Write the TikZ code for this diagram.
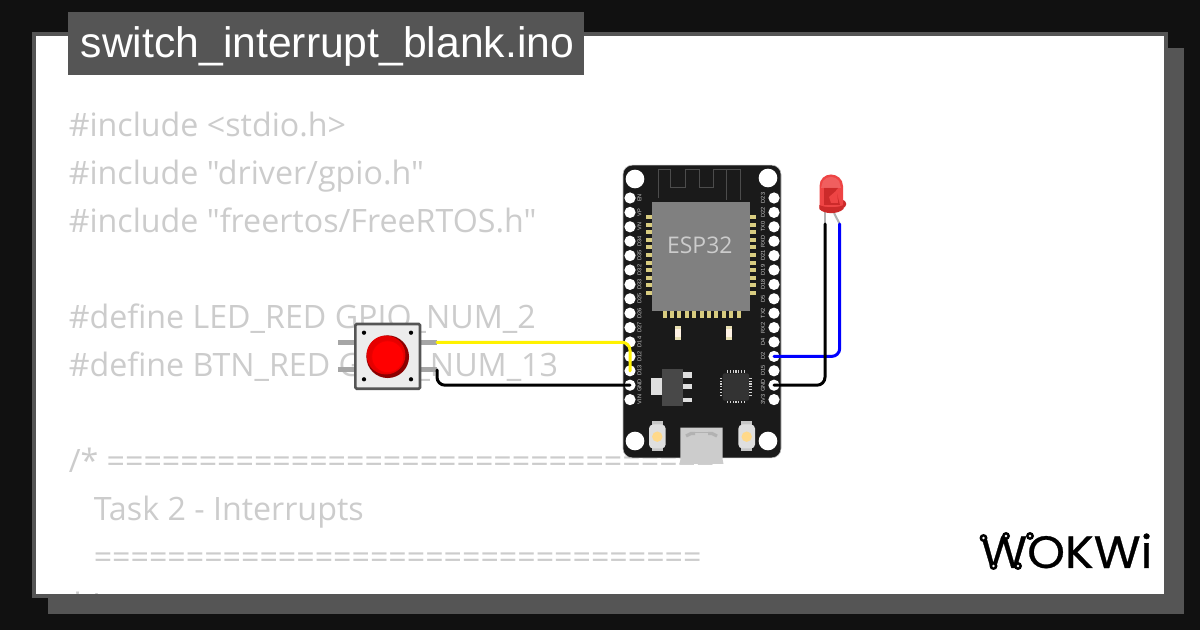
\documentclass[tikz,border=0pt]{standalone}
\usepackage{fontspec}
\newfontfamily\codefont{Open Sans}
\newfontfamily\titlefont{Liberation Sans}
\newfontfamily\logofont{Poppins}[FakeBold=0.6]
\newfontfamily\pinfont{Liberation Sans}
\definecolor{bgdark}{HTML}{111111}
\definecolor{frame}{HTML}{555555}
\definecolor{codegray}{HTML}{CCCCCC}
\definecolor{pcb}{HTML}{1A1A1A}
\definecolor{chipgray}{HTML}{808080}
\definecolor{padgold}{HTML}{D8CC80}
\definecolor{ledred}{HTML}{EE4444}
\definecolor{ledmid}{HTML}{CC2A2A}
\definecolor{lamp}{HTML}{FFD98A}
\definecolor{wireyellow}{HTML}{FFF200}
\tikzset{
  x=0.75pt,y=-0.75pt,
  codeline/.style={anchor=base west,inner sep=0pt,text=codegray,font=\codefont\fontsize{24.15}{24}\selectfont},
  hole/.style={fill=white,draw=none},
  pinlabel/.style={inner sep=0pt,text=codegray,rotate=90,font=\pinfont\fontsize{4.2}{4}\selectfont},
  wire/.style={line width=2.25pt,rounded corners=6pt,line cap=round},
}
\begin{document}
\begin{tikzpicture}
\useasboundingbox (0,0) rectangle (1200,630);
\fill[bgdark] (0,0) rectangle (1200,630);
\fill[frame] (48,48) rectangle (1184,614);
\fill[frame] (32,32) rectangle (1168,598);
\fill[white] (36,36) rectangle (1164,594);
% code
\begin{scope}
\clip (36,36) rectangle (1164,594);
\node[codeline] at (68.5,137) {\#include <stdio.h>};
\node[codeline] at (68.5,185) {\#include "driver/gpio.h"};
\node[codeline] at (68.5,233) {\#include "freertos/FreeRTOS.h"};
\node[codeline] at (68.5,329) {\#define LED\_RED GPIO\_NUM\_2};
\node[codeline] at (68.5,377) {\#define BTN\_RED GPIO\_NUM\_13};
\node[codeline] at (68.5,473) {/* =================================};
\node[codeline] at (93.5,521) {Task 2 - Interrupts};
\node[codeline] at (93.5,569) {=================================};
\node[codeline] at (68.5,617) {*/};
\end{scope}
% title
\fill[frame] (68,12) rectangle (584,75);
\node[anchor=base west,inner sep=0pt,text=white,font=\titlefont\fontsize{32}{32}\selectfont] (title) at (80.5,58) {switch\_interrupt\_blank.ino};
% pushbutton
\foreach \yy in {342.3,370}{
  \fill[gray!70] (338,\yy-2.5) rectangle (355,\yy+2.5);
  \fill[gray!70] (420,\yy-2.5) rectangle (437,\yy+2.5);
}
\node[draw=frame,line width=2pt,fill=gray!15,rounded corners=1pt,minimum width=48.5pt,minimum height=48.5pt,inner sep=0pt] (btn) at (387.7,356.4) {};
\foreach \xx/\yy in {364/332.7,411/332.7,364/379.3,411/379.3}{\fill[black] (\xx,\yy) circle (1.6pt);}
\fill[red!55!black] (387.7,356.7) circle (16pt);
\fill[red!90!black] (386,355) circle (14.6pt);
\fill[red!92!black] (387.7,356.7) circle (12.4pt);
\fill[red] (387.7,356.7) circle (11.6pt);
\coordinate (btn1) at (437,342.3);
\coordinate (btn2) at (437,370);
% board
\node[fill=pcb,draw=gray!50,line width=.4pt,rounded corners=7pt,minimum width=118.5pt,minimum height=219.5pt,inner sep=0pt] (board) at (702,311.5) {};
\foreach \xx/\yy in {635/179,768/178,635/441,768/441}{\fill[hole] (\xx,\yy) circle (7pt);}
\draw[gray!60!black,line width=.75pt] (658.3,197.7) -- (658.3,170) -- (670.7,170) -- (670.7,187.3) -- (685,187.3) -- (685,170) -- (699.3,170) -- (699.3,187.3) -- (713.3,187.3) -- (713.3,170) -- (740,170) -- (740,200) (726.7,170) -- (726.7,200);
\foreach \n in {0,...,10}{
  \fill[padgold] (646,{217+7.6*\n-2}) rectangle (652,{217+7.6*\n+2});
  \fill[padgold] (750,{217+7.6*\n-2}) rectangle (756,{217+7.6*\n+2});
  \fill[padgold] ({664.5+7.4*\n-2},311) rectangle ({664.5+7.4*\n+2},318);
}
\node[fill=chipgray,minimum width=73.5pt,minimum height=81.75pt,inner sep=0pt] (chip) at (701,256.5) {};
\node[text=codegray,inner sep=0pt,font=\codefont\fontsize{17.2}{17}\selectfont] (chiptext) at (699.8,245) {ESP32};
% pins
\foreach \lab [count=\i from 0] in {EN,VP,VN,D34,D35,D32,D33,D25,D26,D27,D14,D12,D13,GND,VIN}{
  \fill[hole] (630,{198+14.4*\i}) circle (4.2pt);
  \coordinate (L\lab) at (630,{198+14.4*\i});
  \node[pinlabel] at (639.5,{198+14.4*\i}) {\lab};
}
\foreach \lab [count=\i from 0] in {D23,D22,TX0,RXD,D21,D19,D18,D5,TX2,RX2,D4,D2,D15,GND,3V3}{
  \fill[hole] (774,{198+14.4*\i}) circle (4.2pt);
  \coordinate (R\lab) at (774,{198+14.4*\i});
  \node[pinlabel] at (763,{198+14.4*\i}) {\lab};
}
% small leds
\foreach \xx in {677.5,729}{
  \fill[padgold!60!white] (\xx-3,326) rectangle (\xx+3,340);
  \fill[white!90!orange] (\xx-3,329) rectangle (\xx+3,337);
}
% regulator
\fill[gray!25] (651,378) rectangle (662,395);
\fill[frame!85!black] (661.7,369.3) rectangle (682.7,406);
\foreach \ya/\yb in {372.3/377.7,384/389,397.7/402.3}{\fill[gray!25] (682.7,\ya) rectangle (692,\yb);}
% qfn
\fill[black!80,rounded corners=1.5pt] (722.7,373.3) rectangle (749,400.7);
\foreach \n in {0,...,6}{
  \fill[gray!35] ({727.5+2.8*\n-.6},370.5) rectangle ({727.5+2.8*\n+.6},373);
  \fill[gray!35] ({727.5+2.8*\n-.6},401) rectangle ({727.5+2.8*\n+.6},403.5);
  \fill[gray!35] (719.7,{378.5+2.8*\n-.6}) rectangle (722.3,{378.5+2.8*\n+.6});
  \fill[gray!35] (749.3,{378.5+2.8*\n-.6}) rectangle (751.9,{378.5+2.8*\n+.6});
}
% tactile buttons
\foreach \xx in {657.3,746.7}{
  \fill[gray!45] (\xx-5.5,421.5) rectangle (\xx+5.5,451);
  \fill[gray!25,rounded corners=3pt] (\xx-8.3,424.5) rectangle (\xx+8.3,448.5);
  \fill[lamp] (\xx,436.7) circle (3.9pt);
}
% usb
\fill[gray!40] (680.3,427.7) -- (722.7,427.7) -- (722.7,460) -- (723.5,464) -- (679.5,464) -- (680.3,460) -- cycle;
\draw[gray!60,line width=2.4pt] (686,436) -- (691,433.5) -- (695,433.5) (717,436) -- (712,433.5) -- (708,433.5);
\draw[gray!60,line width=1pt] (691,432.5) -- (712,432.5);
% LED
\coordinate (ledA) at (839.7,224);
\coordinate (ledC) at (825,224);
\draw[gray!60,line width=1.5pt] (825,212) -- (ledC);
\draw[gray!60,line width=1.5pt] (834,213) -- (ledA);
\fill[ledmid] (842,204) circle (3.2pt);
\fill[ledred] (819.5,208) -- (819.5,186) .. controls (819.5,179) and (825,174.5) .. (831,174.5) .. controls (837,174.5) and (843,179) .. (843,186) -- (843,208) -- cycle;
\fill[ledmid] (819.3,205) .. controls (825,208) and (838,208) .. (843.5,205) -- (843.5,209) .. controls (838,214.5) and (824,214.5) .. (819.3,209) -- cycle;
\fill[ledmid] (824,188) -- (838,188) -- (836,190) -- (840,205) -- (824,205) -- cycle;
\fill[ledred] (829,197) -- (837,190) -- (838,203) -- (831,203) -- cycle;
\fill[white,opacity=.15] (823,181) .. controls (827,175.5) and (835,175.5) .. (839,181) -- (841,188) -- (821,188) -- cycle;
% wires
\coordinate (ycorner) at (btn1 -| LD14);
\coordinate (kcorner) at (btn2 |- LGND);
\coordinate (bcorner) at (ledA |- RD2);
\coordinate (ccorner) at (ledC |- RGND);
\draw[wire,wireyellow] (btn1) -- (ycorner) -- (LD13);
\draw[wire,black] (btn2) -- (kcorner) -- (LGND);
\draw[wire,blue] (RD2) -- (bcorner) -- (ledA);
\draw[wire,black] (RGND) -- (ccorner) -- (ledC);
% logo
\node[anchor=base west,inner sep=0pt,text=black,xscale=1.06,font=\logofont\fontsize{34}{34}\selectfont] (logo) at (980,568) {WOKWi};
\foreach \xx/\yy in {983.5/538,1006/536,1030/536,993.5/566,1018/566}{
  \fill[black] (\xx,\yy) circle (3pt);
  \fill[white] (\xx,\yy) circle (1.1pt);
}
\end{tikzpicture}
\end{document}
